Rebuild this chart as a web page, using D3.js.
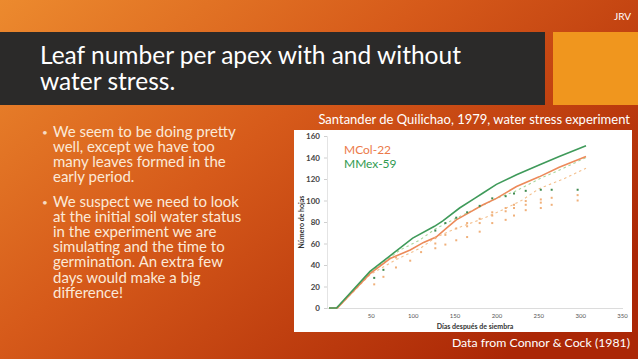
<!DOCTYPE html>
<html><head><meta charset="utf-8">
<script src="https://cdn.jsdelivr.net/npm/d3@7"></script>
<style>html,body{margin:0;padding:0;overflow:hidden;background:#c84a12}</style>
</head><body>
<script>
// ---- data ----
const yTicks = [0,20,40,60,80,100,120,140,160];
const xTicks = [50,100,150,200,250,300,350];
const seriesNames = ["MCol-22","MMex-59"];
// simulated (solid)
const mexSimDays = [0,9,49,77,100,126,136,156,174,184,200,224,251,275,307];
const mexSimVals = [0,0,34,51,65,76,81,93,102,107,115,124,133,141,151];
const colSimDays = [0,10,49,73,97,113,128,140,152,168,184,200,224,251,275,307];
const colSimVals = [0,0,32,46,54,61,66,74,82,89,96,102,113,122,131,141];
// dashed fits
const mexFitDays = [9,49,85,108,126,140,156,180,200,221,251,280,307];
const mexFitVals = [0,33,54,63,73,79,85,94,102,108,120,130,140];
const colFitDays = [10,49,80,110,128,152,180,204,230,251,280,307];
const colFitVals = [0,31,45,56,66,74,82,90,100,111,120,130];
// observed
const mexObsDays = [54,65,127,139,152,165,180,195,211,221,235,253,266,297];
const mexObsVals = [28,35.5,72,79,84,89,95,102,104,106.5,109,110,110,110];
const colObsDays = [54,65,80,80,97,110,127,127,127,139,139,152,152,165,165,165,180,180,180,195,195,195,211,211,211,221,221,221,235,235,235,253,253,253,266,266,297,297];
const colObsVals = [22,29,47,37.7,44,52,65,60,55.6,68,59,74,63,79,76,66,83,79,71,89,86,79,93,90,82,96,93,86,99.5,96,91,101,98,93,102.5,96,105,100];

const W=638,H=359;
const svg=d3.select("body").append("svg").attr("width",W).attr("height",H)
  .style("font-family","Lato, 'Open Sans', sans-serif");
const defs=svg.append("defs");
const lg=defs.append("linearGradient").attr("id","bg").attr("x1","0").attr("y1","0").attr("x2","1").attr("y2","0.7");
lg.append("stop").attr("offset","0").attr("stop-color","#ec8a2e");
lg.append("stop").attr("offset","0.45").attr("stop-color","#d65a1a");
lg.append("stop").attr("offset","1").attr("stop-color","#ab2706");
svg.append("rect").attr("width",W).attr("height",H).attr("fill","url(#bg)");

// title bar
svg.append("rect").attr("x",0).attr("y",32).attr("width",545).attr("height",73).attr("fill","#2b2a29");
svg.append("rect").attr("x",553).attr("y",32).attr("width",85).attr("height",73).attr("fill","#f0961e");
svg.append("text").attr("x",631).attr("y",20).attr("text-anchor","end").attr("fill","#fff").attr("font-size",10).text("JRV");
const title=svg.append("text").attr("fill","#fff").attr("font-size",24.5);
title.append("tspan").attr("x",40).attr("y",64).text("Leaf number per apex with and without");
title.append("tspan").attr("x",40).attr("y",90).text("water stress.");

svg.append("text").attr("x",630).attr("y",124).attr("text-anchor","end").attr("fill","#fff").attr("font-size",13)
  .text("Santander de Quilichao, 1979, water stress experiment");
svg.append("text").attr("x",630).attr("y",347).attr("text-anchor","end").attr("fill","#fff").attr("font-size",12.3)
  .text("Data from Connor & Cock (1981)");

// bullets
const bullets=[["We seem to be doing pretty","well, except we have too","many leaves formed in the","early period."],
 ["We suspect we need to look","at the initial soil water status","in the experiment we are","simulating and the time to","germination. An extra few","days would make a big","difference!"]];
const bStart=[137,207];
bullets.forEach((b,i)=>{
  svg.append("text").attr("x",42).attr("y",bStart[i]-1).attr("fill","#f6dcc4").attr("font-size",10).text("•");
  const t=svg.append("text").attr("fill","#fbe9d8").attr("font-size",15);
  b.forEach((l,j)=>t.append("tspan").attr("x",53).attr("y",bStart[i]+j*15.1).text(l));
});

// chart box
svg.append("rect").attr("x",294).attr("y",130).attr("width",338).attr("height",202).attr("fill","#fff");
const x=d3.scaleLinear().domain([0,350]).range([329,622]);
const y=d3.scaleLinear().domain([0,160]).range([308,136]);

const ya=svg.append("g").attr("transform","translate(327,0)")
  .call(d3.axisLeft(y).tickValues(yTicks).tickSize(3).tickPadding(4));
ya.select(".domain").attr("stroke","#e4e4e4");
ya.selectAll(".tick line").attr("stroke","#cfcfcf");
ya.selectAll("text").attr("font-size",8).attr("font-weight","bold").attr("fill","#444").attr("font-family","Lato, sans-serif");
const xa=svg.append("g").attr("transform","translate(0,308)")
  .call(d3.axisBottom(x).tickValues(xTicks).tickSize(0).tickPadding(6));
xa.select(".domain").attr("stroke","#dcdcdc").attr("d","M327,0.5H623");
xa.selectAll("text").attr("font-size",6).attr("fill","#555").attr("font-family","Lato, sans-serif");

svg.append("text").attr("x",475).attr("y",329).attr("text-anchor","middle").attr("font-size",7).attr("font-weight","bold").attr("fill","#333").text("Días después de siembra");
svg.append("text").attr("transform","translate(304,222) rotate(-90)").attr("text-anchor","middle").attr("font-size",7).attr("font-weight","bold").attr("fill","#333").text("Número de hojas");

const line=d3.line().x(d=>x(d[0])).y(d=>y(d[1]));
const zip=(a,b)=>a.map((v,i)=>[v,b[i]]);
svg.append("path").datum(zip(colFitDays,colFitVals)).attr("d",line).attr("fill","none").attr("stroke","#f4c08e").attr("stroke-width",1.1).attr("stroke-dasharray","2.5,3");
svg.append("path").datum(zip(mexFitDays,mexFitVals)).attr("d",line).attr("fill","none").attr("stroke","#a8d69a").attr("stroke-width",1.1).attr("stroke-dasharray","2.5,3");
svg.append("path").datum(zip(colSimDays,colSimVals)).attr("d",line).attr("fill","none").attr("stroke","#ec8a5a").attr("stroke-width",1.6);
svg.append("path").datum(zip(mexSimDays,mexSimVals)).attr("d",line).attr("fill","none").attr("stroke","#3f9a5a").attr("stroke-width",1.6);

svg.append("g").selectAll("rect").data(zip(colObsDays,colObsVals)).join("rect")
  .attr("x",d=>x(d[0])-1).attr("y",d=>y(d[1])-1).attr("width",2).attr("height",2).attr("fill","#f0b07a");
svg.append("g").selectAll("rect").data(zip(mexObsDays,mexObsVals)).join("rect")
  .attr("x",d=>x(d[0])-1).attr("y",d=>y(d[1])-1).attr("width",2).attr("height",2).attr("fill","#3f8a50");

svg.append("text").attr("x",344).attr("y",154).attr("font-size",12).attr("fill","#ec7a4a").text(seriesNames[0]);
svg.append("text").attr("x",344).attr("y",168).attr("font-size",12).attr("fill","#2f9a50").text(seriesNames[1]);
</script>
</body></html>
